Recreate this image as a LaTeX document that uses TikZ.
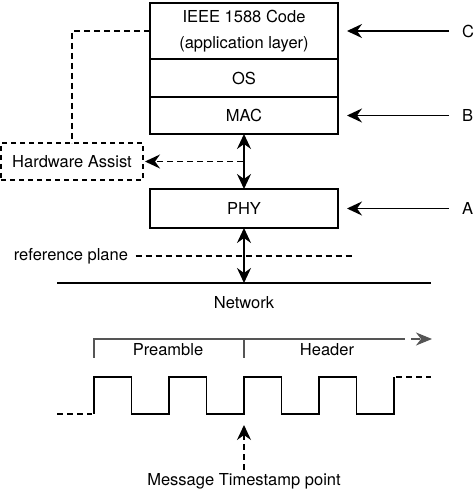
\documentclass[tikz,border=0pt]{standalone}
\usepackage{fontspec}
\setmainfont{TeX Gyre Heros}
\usetikzlibrary{arrows.meta}
\definecolor{brkgray}{HTML}{555555}
\begin{document}
\begin{tikzpicture}[x=1pt,y=1pt,font=\fontsize{16.5}{19}\selectfont,
  layer/.style={draw,line width=1.6pt,outer sep=0pt,inner sep=0pt,minimum width=188pt},
  hwbox/.style={draw,line width=1.4pt,dash pattern=on 5pt off 4pt,outer sep=0pt,inner sep=0pt,minimum width=142pt,minimum height=37pt},
  tip/.style={-{Stealth[length=15pt,width=14pt,inset=5pt]},line width=1.6pt},
  dtip/.style={{Stealth[length=15pt,width=14pt,inset=5pt]}-{Stealth[length=15pt,width=14pt,inset=5pt]},line width=1.6pt},
  dsh/.style={line width=1.4pt,dash pattern=on 6pt off 4pt},
  brk/.style={line width=1.2pt,brkgray}]
\pgfmathsetmacro{\kx}{244}
\pgfmathsetmacro{\hp}{37.5}
\pgfmathsetmacro{\lo}{77}
\pgfmathsetmacro{\hi}{114}
\useasboundingbox (0,0) rectangle (474,491);
% protocol stack
\node[layer,minimum height=56pt,align=center] (code) at (\kx,460) {IEEE 1588 Code\\[7pt](application layer)};
\node[layer,minimum height=38pt,anchor=north] (os) at (code.south) {OS};
\node[layer,minimum height=37pt,anchor=north] (mac) at (os.south) {MAC};
\node[layer,minimum height=39pt] (phy) at (\kx,282.5) {PHY};
\node[hwbox] (hwa) at (72,329.5) {Hardware Assist};
% timestamp points C, B, A
\foreach \n/\l in {code/C,mac/B,phy/A}{
  \node[anchor=west,inner sep=0pt] (lab\l) at ([xshift=124pt]\n.east) {\l};
  \draw[tip,shorten <=13pt,shorten >=9pt] (lab\l.west) -- (\n.east);
}
% network
\coordinate (netl) at (57,208);
\coordinate (netr) at (431,208);
\coordinate (netc) at (\kx,208);
\draw[line width=1.6pt] (netl) -- (netr);
\node (net) at (\kx,188) {Network};
\draw[dtip] (mac.south) -- (phy.north);
\draw[dtip] (phy.south) -- (netc);
% hardware assist
\coordinate (tap) at (243,329.5);
\draw[dsh] (code.west) -| (hwa.north);
\draw[dsh,-{Stealth[length=15pt,width=14pt,inset=5pt]}] (tap) -- ([xshift=2pt]hwa.east);
% reference plane
\node[anchor=east] (refp) at (131.5,235) {reference plane};
\coordinate (refe) at (354,235);
\draw[dsh,shorten <=4pt] (refp.east) -- (refe);
% frame bracket
\coordinate (pa) at (94,133);
\coordinate (pb) at (94,152);
\coordinate (pm) at (\kx,152);
\coordinate (pmt) at (\kx,133);
\coordinate (pe) at (396,152);
\coordinate (pf) at (432,152);
\draw[brk] (pa) -- (pb) -- (pe);
\draw[brk] (pm) -- (pmt);
\draw[brk,dash pattern=on 9pt off 6pt,-{Stealth[length=16pt,width=13pt,inset=5pt]}] (pe) -- (pf);
\node (pre) at (168,141) {Preamble};
\node (hdr) at (327,141) {Header};
% signal
\coordinate (w0) at (94,\lo);
\coordinate (wl) at (57,\lo);
\coordinate (w1) at (394,\hi);
\coordinate (wr) at (431,\hi);
\draw[line width=1.6pt] (w0) \foreach \k in {0,...,3}{-- ++(0,\hi-\lo) -- ++(\hp,0) -- ++(0,\lo-\hi) -- ++(\hp,0)} -- (w1);
\draw[dsh] (wl) -- ([xshift=-2pt]w0);
\draw[dsh] ([xshift=2pt]w1) -- (wr);
% timestamp point
\node (msg) at (\kx,10) {Message Timestamp point};
\coordinate (ts) at (\kx,66);
\draw[dsh,-{Stealth[length=15pt,width=14pt,inset=5pt]}] (msg.north) -- (ts);
\end{tikzpicture}
\end{document}
